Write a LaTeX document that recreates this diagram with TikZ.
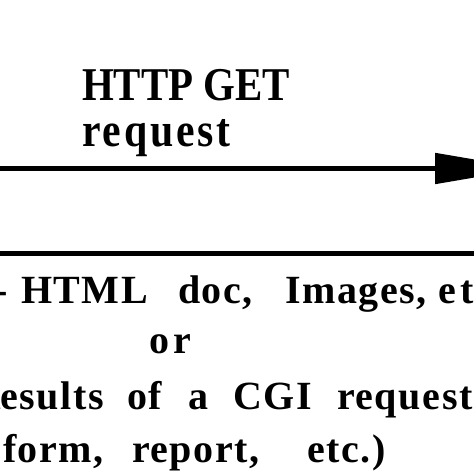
\documentclass[tikz,border=0pt]{standalone}
\usepackage{fontspec}
\setmainfont{Liberation Serif}
\newfontfamily\tbA{Liberation Serif}[FakeStretch=0.87]
\newfontfamily\tbB{Liberation Serif}[FakeStretch=0.87,LetterSpace=6]
\newfontfamily\tbC{Liberation Serif}[LetterSpace=4]
\newfontfamily\tbD{Liberation Serif}[LetterSpace=12]
\usetikzlibrary{arrows.meta}
\begin{document}
\begin{tikzpicture}[x=1bp,y=-1bp,
  txt/.style={inner sep=0pt, outer sep=0pt, anchor=base west},
  bigA/.style={txt, font=\tbA\bfseries\fontsize{47bp}{54bp}\selectfont},
  bigB/.style={txt, font=\tbB\bfseries\fontsize{48bp}{54bp}\selectfont},
  low/.style={txt, font=\tbC\bfseries\fontsize{40bp}{46bp}\selectfont},
  lowwide/.style={txt, font=\tbD\bfseries\fontsize{40bp}{46bp}\selectfont},
  wire/.style={line width=5bp, draw=black}]
\useasboundingbox (0,0) rectangle (474,474);
\fill[white] (0,0) rectangle (474,474);
\clip (0,0) rectangle (474,474);
% upper request label
\node[bigA] (httpget) at (82,101) {HTTP GET};
\node[bigB] (req) at (82,147) {request};
% connectors
\coordinate (clientA) at (-20,168.5);
\coordinate (serverA) at (528,168.5);
\draw[wire, -{Triangle[length=93bp,width=30bp]}] (clientA) -- (serverA);
\coordinate (serverB) at (490,253);
\coordinate (clientB) at (-20,253);
\draw[wire] (serverB) -- (clientB);
% lower response label
\node[low, anchor=base east] (dash) at (8,303) {-};
\node[low] (html) at (21,303) {HTML};
\node[low] (doc) at (178,303) {doc,};
\node[low] (images) at (285,303) {Images,};
\node[lowwide] (etc1) at (438,303) {etc.};
\node[low] (or) at (149,353) {o\hspace{4bp}r};
\node[low, anchor=base east] (res0) at (0,409) {R};
\node[low] (results) at (0,409) {esults};
\node[low] (of) at (127,409) {of};
\node[low] (a) at (188,409) {a};
\node[low] (cgi) at (233,409) {CGI};
\node[low] (request2) at (337,409) {request};
\node[low, anchor=base east] (paren) at (-2,462) {(};
\node[low] (form) at (3,462) {form,};
\node[low] (report) at (132,462) {report,};
\node[low] (etc2) at (307,462) {etc.)};
\end{tikzpicture}
\end{document}
